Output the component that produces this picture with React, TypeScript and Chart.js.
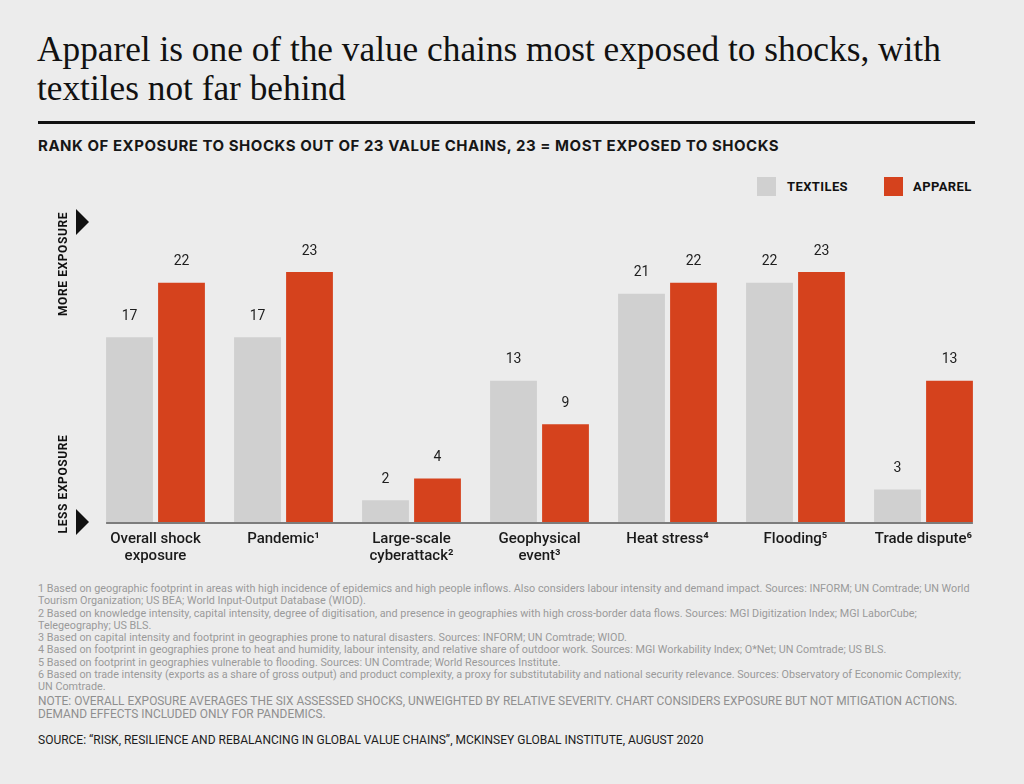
import React, { useEffect, useRef } from "react";
import { Chart, registerables } from "chart.js";

Chart.register(...registerables);

const categories: string[][] = [
  ["Overall shock", "exposure"],
  ["Pandemic¹"],
  ["Large-scale", "cyberattack²"],
  ["Geophysical", "event³"],
  ["Heat stress⁴"],
  ["Flooding⁵"],
  ["Trade dispute⁶"],
];
const textilesRank = [17, 17, 2, 13, 21, 22, 3];
const apparelRank = [22, 23, 4, 9, 22, 23, 13];
const seriesNames = ["TEXTILES", "APPAREL"];
const seriesColors = ["#d0d0d0", "#d5421d"];
const yMin = 0;
const yMax = 23;

const footnotes = [
  "1 Based on geographic footprint in areas with high incidence of epidemics and high people inflows. Also considers labour intensity and demand impact. Sources: INFORM; UN Comtrade; UN World",
  "Tourism Organization; US BEA; World Input-Output Database (WIOD).",
  "2 Based on knowledge intensity, capital intensity, degree of digitisation, and presence in geographies with high cross-border data flows. Sources: MGI Digitization Index; MGI LaborCube;",
  "Telegeography; US BLS.",
  "3 Based on capital intensity and footprint in geographies prone to natural disasters. Sources: INFORM; UN Comtrade; WIOD.",
  "4 Based on footprint in geographies prone to heat and humidity, labour intensity, and relative share of outdoor work. Sources: MGI Workability Index; O*Net; UN Comtrade; US BLS.",
  "5 Based on footprint in geographies vulnerable to flooding. Sources: UN Comtrade; World Resources Institute.",
  "6 Based on trade intensity (exports as a share of gross output) and product complexity, a proxy for substitutability and national security relevance. Sources: Observatory of Economic Complexity;",
  "UN Comtrade.",
];
const noteLines = [
  "NOTE: OVERALL EXPOSURE AVERAGES THE SIX ASSESSED SHOCKS, UNWEIGHTED BY RELATIVE SEVERITY. CHART CONSIDERS EXPOSURE BUT NOT MITIGATION ACTIONS.",
  "DEMAND EFFECTS INCLUDED ONLY FOR PANDEMICS.",
];
const sourceLine =
  "SOURCE: “RISK, RESILIENCE AND REBALANCING IN GLOBAL VALUE CHAINS”, MCKINSEY GLOBAL INSTITUTE, AUGUST 2020";

const SANS = "Roboto, 'Noto Sans', sans-serif";
const CANVAS_TOP = 160;

const decorPlugin = {
  id: "decor",
  afterDatasetsDraw(chart: any) {
    const ctx = chart.ctx as CanvasRenderingContext2D;
    const area = chart.chartArea;
    ctx.save();
    // value labels
    ctx.font = `400 14px ${SANS}`;
    ctx.fillStyle = "#1e1e1e";
    ctx.textAlign = "center";
    ctx.textBaseline = "middle";
    chart.data.datasets.forEach((ds: any, di: number) => {
      const meta = chart.getDatasetMeta(di);
      meta.data.forEach((el: any, i: number) => {
        ctx.fillText(String(ds.data[i]), el.x, el.y - 21);
      });
    });
    // baseline
    const m0 = chart.getDatasetMeta(0).data;
    const m1 = chart.getDatasetMeta(chart.data.datasets.length - 1).data;
    const first = m0[0];
    const last = m1[m1.length - 1];
    ctx.fillStyle = "#7c7c7c";
    ctx.fillRect(first.x - first.width / 2, area.bottom, last.x + last.width / 2 - (first.x - first.width / 2), 2);
    // side labels
    ctx.fillStyle = "#111";
    ctx.font = `700 12px ${SANS}`;
    (ctx as any).letterSpacing = "0.6px";
    const drawRot = (text: string, cx: number, cy: number) => {
      ctx.save();
      ctx.translate(cx, cy);
      ctx.rotate(-Math.PI / 2);
      ctx.textAlign = "center";
      ctx.textBaseline = "middle";
      ctx.fillText(text, 0, 0);
      ctx.restore();
    };
    drawRot("MORE EXPOSURE", 64, 264 - CANVAS_TOP);
    drawRot("LESS EXPOSURE", 64, 484 - CANVAS_TOP);
    const tri = (top: number) => {
      ctx.beginPath();
      ctx.moveTo(76, top);
      ctx.lineTo(89, top + 13);
      ctx.lineTo(76, top + 26);
      ctx.closePath();
      ctx.fill();
    };
    tri(209 - CANVAS_TOP);
    tri(509 - CANVAS_TOP);
    ctx.restore();
  },
};

function BarChart() {
  const ref = useRef<HTMLCanvasElement | null>(null);
  useEffect(() => {
    if (!ref.current) return;
    const chart = new Chart(ref.current, {
      type: "bar",
      data: {
        labels: categories,
        datasets: [
          {
            label: seriesNames[0],
            data: textilesRank,
            backgroundColor: seriesColors[0],
            categoryPercentage: 0.8125,
            barPercentage: 0.9,
          },
          {
            label: seriesNames[1],
            data: apparelRank,
            backgroundColor: seriesColors[1],
            categoryPercentage: 0.8125,
            barPercentage: 0.9,
          },
        ],
      },
      options: {
        responsive: false,
        animation: false,
        layout: { padding: { top: 112, left: 91.5, right: 36.5, bottom: 0 } },
        plugins: {
          legend: { display: false },
          tooltip: { enabled: false },
        },
        scales: {
          x: {
            grid: { display: false, drawTicks: false },
            border: { display: false },
            ticks: {
              color: "#1a1a1a",
              padding: 9,
              maxRotation: 0,
              autoSkip: false,
              font: { family: SANS, size: 15, weight: "500", lineHeight: 1.1 },
            },
            afterFit: (scale: any) => {
              scale.height = 58;
            },
          },
          y: {
            display: false,
            min: yMin,
            max: yMax,
          },
        },
      },
      plugins: [decorPlugin],
    });
    return () => chart.destroy();
  }, []);
  return (
    <canvas
      ref={ref}
      width={1024}
      height={420}
      style={{ position: "absolute", left: 0, top: CANVAS_TOP, width: 1024, height: 420 }}
    />
  );
}

export default function App() {
  useEffect(() => {
    document.body.style.margin = "0";
    document.body.style.background = "#ececec";
  }, []);
  return (
    <div
      style={{
        position: "absolute",
        left: 0,
        top: 0,
        width: 1024,
        height: 784,
        background: "#ececec",
        overflow: "hidden",
        fontFamily: SANS,
      }}
    >
      <div
        style={{
          position: "absolute",
          left: 37,
          top: 30,
          fontFamily: "'Liberation Serif', 'DejaVu Serif', serif",
          fontSize: 35.3,
          lineHeight: "39px",
          color: "#111",
          whiteSpace: "nowrap",
        }}
      >
        <div>Apparel is one of the value chains most exposed to shocks, with</div>
        <div>textiles not far behind</div>
      </div>
      <div style={{ position: "absolute", left: 38, top: 121, width: 937, height: 3, background: "#111" }} />
      <div
        style={{
          position: "absolute",
          left: 38,
          top: 137,
          fontFamily: "Inter, Roboto, sans-serif",
          fontSize: 15,
          fontWeight: 700,
          letterSpacing: "0.53px",
          color: "#161616",
          whiteSpace: "nowrap",
          lineHeight: "18px",
        }}
      >
        RANK OF EXPOSURE TO SHOCKS OUT OF 23 VALUE CHAINS, 23 = MOST EXPOSED TO SHOCKS
      </div>
      {/* legend */}
      <div style={{ position: "absolute", left: 757, top: 177, width: 19, height: 19, background: seriesColors[0] }} />
      <div
        style={{ position: "absolute", left: 787, top: 178, fontSize: 13, fontWeight: 700, lineHeight: "18px", color: "#111", letterSpacing: "0.4px" }}
      >
        {seriesNames[0]}
      </div>
      <div style={{ position: "absolute", left: 884, top: 177, width: 19, height: 19, background: seriesColors[1] }} />
      <div
        style={{ position: "absolute", left: 913, top: 178, fontSize: 13, fontWeight: 700, lineHeight: "18px", color: "#111", letterSpacing: "0.4px" }}
      >
        {seriesNames[1]}
      </div>
      <BarChart />
      <div
        style={{
          position: "absolute",
          left: 38,
          top: 583,
          fontSize: 10.8,
          lineHeight: "12.25px",
          color: "#9a9a9a",
          whiteSpace: "nowrap",
        }}
      >
        {footnotes.map((f, i) => (
          <div key={i}>{f}</div>
        ))}
      </div>
      <div
        style={{
          position: "absolute",
          left: 38,
          top: 695,
          fontSize: 11.9,
          lineHeight: "12.5px",
          color: "#8f8f8f",
          whiteSpace: "nowrap",
        }}
      >
        {noteLines.map((f, i) => (
          <div key={i}>{f}</div>
        ))}
      </div>
      <div
        style={{
          position: "absolute",
          left: 38,
          top: 733,
          fontSize: 12,
          lineHeight: "15px",
          color: "#1c1c1c",
          whiteSpace: "nowrap",
        }}
      >
        {sourceLine}
      </div>
    </div>
  );
}
